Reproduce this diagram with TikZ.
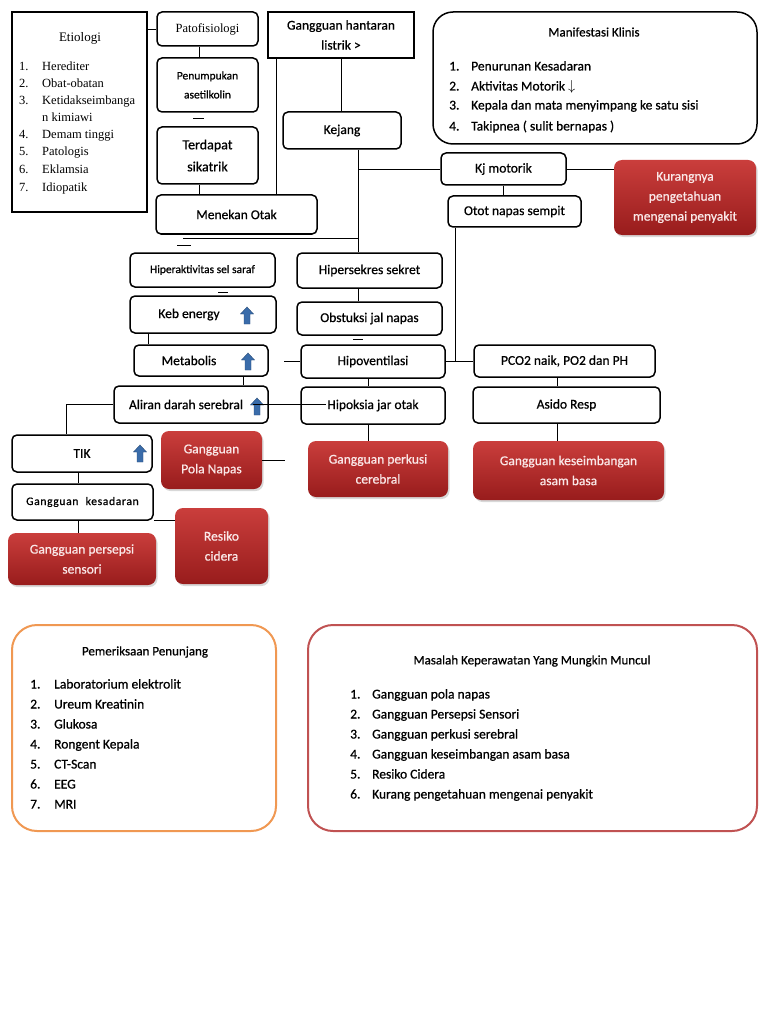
\documentclass[tikz,border=0pt]{standalone}
\usepackage{fontspec}
\setmainfont{Carlito}[FakeBold=0.7]
\newfontfamily\timesfont{Liberation Serif}
\usetikzlibrary{positioning,shadows}
\definecolor{redtop}{RGB}{202,62,60}
\definecolor{redbot}{RGB}{152,28,28}
\definecolor{redtext}{RGB}{250,232,232}
\definecolor{arrowblue}{RGB}{58,108,170}
\definecolor{orangeline}{RGB}{240,152,82}
\definecolor{masalahline}{RGB}{192,82,82}

\tikzset{
	box/.style={draw, line width=1.5pt, rounded corners=5pt, fill=white, align=center, inner sep=0pt, font=\fontsize{13.5}{20}\selectfont},
	smallbox/.style={box, font=\fontsize{11.5}{19}\selectfont},
	redbox/.style={rounded corners=8pt, top color=redtop, bottom color=redbot, text=redtext, align=center, inner sep=0pt,
		font=\fontsize{13.5}{20}\selectfont, drop shadow={opacity=0.3, shadow xshift=1.5pt, shadow yshift=-2pt}},
	conn/.style={line width=0.8pt},
	listtext/.style={anchor=base west, inner sep=0pt, font=\fontsize{13.5}{15}\selectfont},
	etitext/.style={anchor=base west, inner sep=0pt, font=\timesfont\fontsize{12.5}{14}\selectfont},
	naik/.pic={\fill[arrowblue, draw=arrowblue!70!black, line width=0.4pt] (0,-9) -- (6.5,-2) -- (3,-2) -- (3,8) -- (-3,8) -- (-3,-2) -- (-6.5,-2) -- cycle;}
}

\begin{document}
\begin{tikzpicture}[x=1pt,y=-1pt]
	\fill[white] (0,0) rectangle (768,1024);
	\useasboundingbox (0,0) rectangle (768,1024);

	% etiologi
	\node[draw, line width=1.5pt, minimum width=135, minimum height=200, inner sep=0pt] (eti) at (79.5,112) {};
	\node[font=\timesfont\fontsize{13}{15}\selectfont] (etit) at (80,38) {Etiologi};
	\foreach \y/\n/\t [count=\i] in {66/1./Herediter, 83/2./Obat-obatan, 100/3./Ketidakseimbanga, 117/ /n kimiawi,
		134/4./Demam tinggi, 151/5./Patologis, 169/6./Eklamsia, 187/7./Idiopatik} {
		\node[etitext] (etin\i) at (19,\y+4.5) {\n};
		\node[etitext] (etil\i) at (42,\y+4.5) {\t};
	}

	% left column
	\node[box, font=\timesfont\fontsize{12.5}{14}\selectfont, minimum width=101, minimum height=34] (pato) at (207.5,29) {Patofisiologi};
	\node[smallbox, minimum width=101, minimum height=54] (penum) at (207.5,85) {Penumpukan\\asetilkolin};
	\node[box, font=\fontsize{14}{22}\selectfont, minimum width=101, minimum height=57] (terd) at (207.5,155.5) {Terdapat\\sikatrik};
	\node[box, minimum width=161, minimum height=39] (menek) at (236.5,214.5) {Menekan Otak};
	\node[draw, line width=2.2pt, minimum width=146, minimum height=46, inner sep=0pt, align=center, font=\fontsize{13.5}{20}\selectfont] (hant) at (341,35) {Gangguan hantaran\\listrik >};
	\node[box, minimum width=118, minimum height=37] (kej) at (342,130.5) {Kejang};

	\node[smallbox, minimum width=145, minimum height=34] (hiper) at (202.5,270) {Hiperaktivitas sel saraf};
	\node[box, minimum width=146, minimum height=37] (keb) at (203,314.5) {Keb energy\hspace{28pt}};
	\pic at (247,316) {naik};
	\node[box, minimum width=134, minimum height=31] (metab) at (201,360.5) {Metabolis\hspace{24pt}};
	\pic at (248,362) {naik};
	\node[box, minimum width=154, minimum height=37] (alir) at (191,404.5) {Aliran darah serebral\hspace{10pt}};
	\pic at (257,407) {naik};
	\node[box, minimum width=140, minimum height=37] (tik) at (82,453.5) {TIK};
	\pic at (140,454) {naik};
	\node[smallbox, font=\fontsize{11.5}{19}\selectfont\addfontfeatures{LetterSpace=6}, minimum width=141, minimum height=36] (kesad) at (82.5,502) {Gangguan\hspace{4pt} kesadaran};

	\node[redbox, minimum width=101, minimum height=58] (pola) at (211.5,460) {Gangguan\\Pola Napas};
	\node[redbox, minimum width=148, minimum height=52] (persep) at (82,559) {Gangguan persepsi\\sensori};
	\node[redbox, minimum width=93, minimum height=76] (resiko) at (221.5,546) {Resiko\\cidera};

	% middle column
	\node[box, minimum width=145, minimum height=35] (sekret) at (369.5,270.5) {Hipersekres sekret};
	\node[box, minimum width=145, minimum height=33] (obst) at (369.5,318.5) {Obstuksi jal napas};
	\node[box, minimum width=144, minimum height=33] (hipov) at (373,361.5) {Hipoventilasi};
	\node[box, minimum width=144, minimum height=37] (hipok) at (373,405.5) {Hipoksia jar otak};
	\node[redbox, minimum width=140, minimum height=56] (perk) at (378,469) {Gangguan perkusi\\cerebral};

	% right column
	\node[box, rounded corners=20pt, minimum width=324, minimum height=132] (mani) at (595,78) {};
	\node[font=\fontsize{13}{15}\selectfont] (manit) at (594,32) {Manifestasi Klinis};
	\foreach \y/\n/\t [count=\i] in {66/1./Penurunan Kesadaran, 86/2./Aktivitas Motorik $\downarrow$,
		105/3./Kepala dan mata menyimpang ke satu sisi, 126/4./Takipnea ( sulit bernapas )} {
		\node[listtext] (manin\i) at (449,\y+4.5) {\n};
		\node[listtext] (manil\i) at (471,\y+4.5) {\t};
	}
	\node[box, minimum width=125, minimum height=32] (kj) at (503.5,169) {Kj motorik};
	\node[box, minimum width=133, minimum height=31] (otot) at (514.5,211.5) {Otot napas sempit};
	\node[redbox, minimum width=142, minimum height=75] (kurang) at (685,197.5) {Kurangnya\\pengetahuan\\mengenai penyakit};
	\node[box, minimum width=181, minimum height=32] (pco) at (564.5,361) {PCO2 naik, PO2 dan PH};
	\node[box, minimum width=187, minimum height=36] (asido) at (566.5,405) {Asido Resp};
	\node[redbox, minimum width=191, minimum height=59] (kese) at (568.5,470.5) {Gangguan keseimbangan\\asam basa};

	% connectors
	\draw[conn] (eti.east |- pato.west) -- (pato.west);
	\draw[conn] ([xshift=-8pt]pato.south) -- ([xshift=-8pt]pato.south |- penum.north);
	\draw[conn] ([xshift=-8pt]terd.south) -- ([xshift=-8pt]terd.south |- menek.north);
	\draw[conn] ([xshift=-65pt]hant.south) -- ([xshift=-65pt]hant.south |- menek.north);
	\draw[conn] (hant.south) -- (hant.south |- kej.north);
	\coordinate (trunk) at ([xshift=16pt]kej.south);
	\draw[conn] (trunk) -- (trunk |- sekret.north);
	\draw[conn] (trunk |- kj.west) -- (kj.west);
	\coordinate (menekl) at (183,238);
	\draw[conn] (menekl) -- (trunk |- menekl);
	\draw[conn] ([xshift=-11.5pt]sekret.south) -- ([xshift=-11.5pt]sekret.south |- obst.north);
	\draw[conn] (kj.south) -- (kj.south |- otot.north);
	\draw[conn] (kj.east) -- (kj.east -| kurang.west);
	\draw[conn] ([xshift=-59.5pt]otot.south) -- ([xshift=-59.5pt]otot.south |- hipov.east);
	\draw[conn] (hipov.east) -- (hipov.east -| pco.west);
	\coordinate (hipovl) at (284,361.5);
	\draw[conn] (hipovl) -- (hipov.west);
	\draw[conn] ([xshift=-5pt]hipov.south) -- ([xshift=-5pt]hipov.south |- hipok.north);
	\draw[conn] ([xshift=-5pt]hipok.south) -- ([xshift=-5pt]hipok.south |- perk.north);
	\draw[conn] ([xshift=-7.5pt]pco.south) -- ([xshift=-7.5pt]pco.south |- asido.north);
	\draw[conn] ([xshift=-9.5pt]asido.south) -- ([xshift=-9.5pt]asido.south |- kese.north);
	\draw[conn] ([xshift=-55pt]keb.south) -- ([xshift=-55pt]keb.south |- metab.north);
	\draw[conn] ([xshift=42pt]metab.south) -- ([xshift=42pt]metab.south |- alir.north);
	\draw[conn] ([xshift=-16pt]alir.east) -- ([xshift=26pt]hipok.west |- alir.east);
	\draw[conn] (alir.west) -| ([xshift=-16pt]tik.north);
	\draw[conn] ([xshift=-4pt]tik.south) -- ([xshift=-4pt]tik.south |- kesad.north);
	\draw[conn] ([xshift=-4.5pt]kesad.south) -- ([xshift=-4.5pt]kesad.south |- persep.north);
	\draw[conn] (kesad.south east) -- (kesad.south east -| resiko.west);
	\coordinate (polar) at (285,460);
	\draw[conn] (pola.east) -- (polar);

	% short dashes
	\foreach \xa/\xb/\y in {193/204/118, 177/191/245, 218/228/292, 353/363/339}
		\draw[conn] (\xa,\y) -- (\xb,\y);

	% pemeriksaan penunjang
	\node[draw=orangeline, line width=2pt, rounded corners=25pt, minimum width=264, minimum height=206] (peme) at (144,728) {};
	\node[font=\fontsize{13}{15}\selectfont] (pemet) at (145,652) {Pemeriksaan Penunjang};
	\foreach \t [count=\i] in {Laboratorium elektrolit, Ureum Kreatinin, Glukosa, Rongent Kepala, CT-Scan, EEG, MRI} {
		\node[listtext] (peman\i) at (30,668.5+20*\i) {\i.};
		\node[listtext] (pemel\i) at (54,668.5+20*\i) {\t};
	}

	% masalah keperawatan
	\node[draw=masalahline, line width=2pt, rounded corners=25pt, minimum width=449, minimum height=206] (masa) at (532.5,728) {};
	\node[font=\fontsize{13}{15}\selectfont] (masat) at (532,661) {Masalah Keperawatan Yang Mungkin Muncul};
	\foreach \t [count=\i] in {Gangguan pola napas, Gangguan Persepsi Sensori, Gangguan perkusi serebral,
		Gangguan keseimbangan asam basa, Resiko Cidera, Kurang pengetahuan mengenai penyakit} {
		\node[listtext] (masan\i) at (350,678.5+20*\i) {\i.};
		\node[listtext] (masal\i) at (372,678.5+20*\i) {\t};
	}
\end{tikzpicture}
\end{document}
